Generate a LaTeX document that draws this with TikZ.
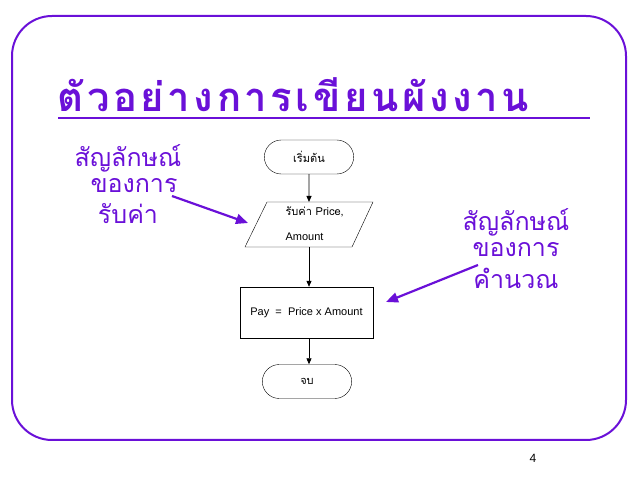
\documentclass[tikz,border=0pt]{standalone}
\usepackage{fontspec}
\setmainfont{Liberation Sans}
\newfontfamily\thaifont[Script=Thai]{Loma}
\newfontfamily\thaititle[Script=Thai,LetterSpace=9]{Loma}
\usetikzlibrary{arrows.meta,shapes.misc}
\definecolor{pur}{HTML}{6A10D8}
\tikzset{
 term/.style={draw,rounded rectangle,minimum width=96pt,minimum height=34pt,font=\thaifont\fontsize{11}{13}\selectfont},
 flow/.style={-{Triangle[length=6pt,width=5pt]},line width=0.8pt},
 lbl/.style={text=pur,align=center,font=\thaifont\fontsize{25}{29}\selectfont},
 parr/.style={-{Triangle[length=12pt,width=10pt]},draw=pur,line width=2.2pt}
}
\begin{document}
\begin{tikzpicture}[x=1pt,y=-1pt]
\useasboundingbox (0,0) rectangle (638,478);
\draw[pur,line width=2pt,rounded corners=40pt] (12,16) rectangle (626,440);
\node[anchor=west,text=pur,font=\thaititle\bfseries\fontsize{40}{44}\selectfont] (title) at (54,95) {ตัวอย่างการเขียนผังงาน};
\draw[pur,line width=2.5pt] (58,118) -- (590,118);
\node[term] (start) at (309,157) {เริ่มต้น};
\draw (267,202) -- (373,202) -- (352,247) -- (245,247) -- cycle;
\node[font=\thaifont\fontsize{11}{13}\selectfont,anchor=west] (in1) at (282,212) {รับค่า Price,};
\node[font=\fontsize{11}{13}\selectfont,anchor=west] (in2) at (282,237) {Amount};
\coordinate (intop) at (309,202);
\coordinate (inbot) at (309,247);
\node[draw,minimum width=133pt,minimum height=51pt,font=\fontsize{11}{13}\selectfont] (calc) at (306.5,312.5) {Pay\ \ =\ \ Price x Amount};
\node[term] (end) at (307,381.5) {จบ};
\draw[flow] (start) -- (intop);
\draw[flow] (inbot) -- (calc.north -| inbot);
\draw[flow] (calc.south -| inbot) -- (end.north -| inbot);
\node[lbl] (l1) at (128,158) {สัญลักษณ์};
\node[lbl] (l2) at (134,186) {ของการ};
\node[lbl] (l3) at (128,214) {รับค่า};
\coordinate (a1) at (172,196);
\coordinate (a1e) at (248,223);
\draw[parr] (a1) -- (a1e);
\node[lbl] (r1) at (516,222) {สัญลักษณ์};
\node[lbl] (r2) at (516,250) {ของการ};
\node[lbl] (r3) at (516,278) {คำนวณ};
\coordinate (a2) at (478,265);
\coordinate (a2e) at (386,302);
\draw[parr] (a2) -- (a2e);
\node[font=\fontsize{12}{14}\selectfont] (pg) at (533,458) {4};
\end{tikzpicture}
\end{document}
